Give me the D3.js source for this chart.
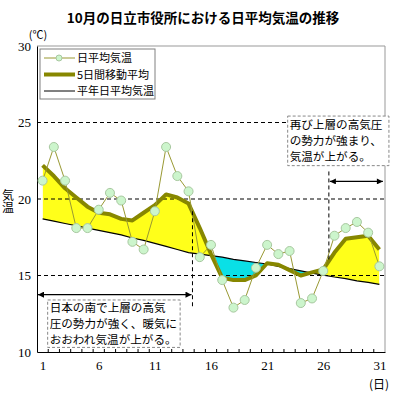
<!DOCTYPE html>
<html>
<head>
<meta charset="utf-8">
<script src="https://cdn.jsdelivr.net/npm/d3@7"></script>
<style>
  body { margin: 0; background: #fff; }
  svg { display: block; }
</style>
</head>
<body>
<script>
// 10月の日立市役所 日平均気温
const days = [1, 2, 3, 4, 5, 6, 7, 8, 9, 10, 11, 12, 13, 14, 15, 16, 17, 18, 19, 20, 21, 22, 23, 24, 25, 26, 27, 28, 29, 30, 31];
const daily = [21.2, 23.4, 21.2, 18.1, 18.1, 19.3, 20.4, 19.9, 17.2, 16.7, 19.2, 23.4, 21.5, 20.5, 16.2, 17.0,
  14.7, 12.9, 13.4, 15.5, 17.0, 16.4, 16.6, 13.2, 13.5, 15.3, 17.6, 18.1, 18.5, 17.8, 15.6];
const ma5 = [22.2, 21.5, 20.7, 20.1, 19.5, 19.1, 19.0, 18.7, 18.6, 19.1, 19.6, 20.3, 20.1, 19.7, 18.1, 16.4,
  14.85, 14.7, 14.7, 15.0, 15.8, 15.7, 15.35, 15.0, 15.2, 15.4, 16.5, 17.4, 17.5, 17.6, 16.7];
const normal = [18.7, 18.55, 18.4, 18.25, 18.1, 17.95, 17.8, 17.65, 17.45, 17.3, 17.1, 16.9, 16.7, 16.5, 16.4,
  16.3, 16.2, 16.05, 15.95, 15.85, 15.75, 15.6, 15.45, 15.3, 15.15, 15.03, 14.9, 14.8, 14.65, 14.55, 14.42];

const yTicks = [10, 15, 20, 25, 30];
const xTicks = [1, 6, 11, 16, 21, 26, 31];
const legendLabels = ['日平均気温', '5日間移動平均', '平年日平均気温'];
const title = '10月の日立市役所における日平均気温の推移';

// annotations (data units)
const noteLeft = ['日本の南で上層の高気', '圧の勢力が強く、暖気に', 'おおわれ気温が上がる。'];
const noteRight = ['再び上層の高気圧', 'の勢力が強まり、', '気温が上がる。'];

const width = 400;
const height = 400;
const pL = 37, pR = 385, pT = 46, pB = 352;
const jp = '"Noto Sans CJK JP", sans-serif';
const num = '"Liberation Serif", "Times New Roman", serif';

const svg = d3.select('body').append('svg')
  .attr('width', width).attr('height', height);

const x = d3.scaleLinear().domain([0.5, 31.5]).range([pL, pR]);
const y = d3.scaleLinear().domain([10, 30]).range([pB, pT]);

const data = days.map((d, i) => ({ day: d, t: daily[i], ma: ma5[i], n: normal[i] }));

// title
svg.append('text')
  .attr('x', 203).attr('y', 23)
  .attr('text-anchor', 'middle')
  .style('font-family', jp).style('font-size', '13.5px').style('font-weight', 'bold')
  .text(title);

// fills between 5-day mean and normal
const defs = svg.append('defs');
defs.append('clipPath').attr('id', 'below-ma')
  .append('path')
  .attr('d', d3.area().x((d) => x(d.day)).y0(pB).y1((d) => y(d.ma))(data));
defs.append('clipPath').attr('id', 'above-ma')
  .append('path')
  .attr('d', d3.area().x((d) => x(d.day)).y0(pT).y1((d) => y(d.ma))(data));

svg.append('path')
  .attr('clip-path', 'url(#below-ma)')
  .attr('fill', '#ffff1a')
  .attr('d', d3.area().x((d) => x(d.day)).y0((d) => y(d.n)).y1(pT)(data));
svg.append('path')
  .attr('clip-path', 'url(#above-ma)')
  .attr('fill', '#0ae0e6')
  .attr('d', d3.area().x((d) => x(d.day)).y0((d) => y(d.n)).y1(pB)(data));

// grid
svg.append('g')
  .selectAll('line')
  .data([15, 20, 25])
  .enter()
  .append('line')
  .attr('x1', pL).attr('x2', pR)
  .attr('y1', (d) => y(d)).attr('y2', (d) => y(d))
  .attr('stroke', '#000').attr('stroke-dasharray', '4,3');

// frame: top/right grey, left/bottom black
svg.append('path')
  .attr('d', `M${pL},${pT}H${pR}V${pB}`)
  .attr('fill', 'none').attr('stroke', '#999');

const yAxis = d3.axisLeft(y).tickValues(yTicks).tickSize(0).tickPadding(6);
const gy = svg.append('g').attr('transform', `translate(${pL},0)`).call(yAxis);
gy.select('.domain').attr('stroke', '#000');
gy.selectAll('text').style('font-family', num).style('font-size', '13px');

const xAxis = d3.axisBottom(x).tickValues(xTicks).tickSize(0).tickPadding(9);
const gx = svg.append('g').attr('transform', `translate(0,${pB})`).call(xAxis);
gx.select('.domain').attr('stroke', '#000');
gx.selectAll('text').style('font-family', num).style('font-size', '13px');

// small inner ticks between days
svg.append('g')
  .selectAll('line')
  .data(days.slice(0, 30))
  .enter()
  .append('line')
  .attr('x1', (d) => x(d + 0.5)).attr('x2', (d) => x(d + 0.5))
  .attr('y1', pB).attr('y2', pB - 3)
  .attr('stroke', '#000');

svg.append('text')
  .attr('x', 38).attr('y', 39).attr('text-anchor', 'middle')
  .style('font-family', jp).style('font-size', '11px')
  .text('(℃)');
svg.append('text')
  .attr('x', 379).attr('y', 389).attr('text-anchor', 'middle')
  .style('font-family', jp).style('font-size', '12px')
  .text('(日)');
svg.append('text')
  .attr('x', 8).attr('y', 201)
  .attr('text-anchor', 'middle')
  .style('writing-mode', 'vertical-rl')
  .style('font-family', jp).style('font-size', '12px')
  .text('気温');

// lines
const normalLine = d3.line().x((d) => x(d.day)).y((d) => y(d.n));
const maLine = d3.line().x((d) => x(d.day)).y((d) => y(d.ma));
const dailyLine = d3.line().x((d) => x(d.day)).y((d) => y(d.t));

svg.append('path').attr('d', normalLine(data))
  .attr('fill', 'none').attr('stroke', '#000').attr('stroke-width', 1.2);
svg.append('path').attr('d', maLine(data))
  .attr('fill', 'none').attr('stroke', '#878700').attr('stroke-width', 4)
  .attr('stroke-linejoin', 'round');
svg.append('path').attr('d', dailyLine(data))
  .attr('fill', 'none').attr('stroke', '#999933').attr('stroke-width', 1);
svg.append('g')
  .selectAll('circle')
  .data(data)
  .enter()
  .append('circle')
  .attr('cx', (d) => x(d.day)).attr('cy', (d) => y(d.t))
  .attr('r', 4.5)
  .attr('fill', '#ccf5cc').attr('stroke', '#a8c8a0');

// annotations
svg.append('defs').append('marker')
  .attr('id', 'arrow')
  .attr('viewBox', '0 0 10 10')
  .attr('refX', 10).attr('refY', 5)
  .attr('markerWidth', 9).attr('markerHeight', 6)
  .attr('markerUnits', 'userSpaceOnUse')
  .attr('orient', 'auto-start-reverse')
  .append('path').attr('d', 'M0,0L10,5L0,10Z').attr('fill', '#000');

const vDash = [
  { day: 14.35, from: 19.2, to: 12.9 },
  { day: 26.5, from: 21.8, to: 15.9 }
];
svg.append('g')
  .selectAll('line')
  .data(vDash)
  .enter()
  .append('line')
  .attr('x1', (d) => x(d.day)).attr('x2', (d) => x(d.day))
  .attr('y1', (d) => y(d.from)).attr('y2', (d) => y(d.to))
  .attr('stroke', '#000').attr('stroke-dasharray', '4,3');

const arrows = [
  { x0: 0.5, x1: 14.35, v: 13.75 },
  { x0: 26.5, x1: 31.4, v: 21.15 }
];
svg.append('g')
  .selectAll('line')
  .data(arrows)
  .enter()
  .append('line')
  .attr('x1', (d) => x(d.x0) + 1).attr('x2', (d) => x(d.x1) - 1)
  .attr('y1', (d) => y(d.v)).attr('y2', (d) => y(d.v))
  .attr('stroke', '#000').attr('stroke-width', 1.2)
  .attr('marker-start', 'url(#arrow)').attr('marker-end', 'url(#arrow)');

function note(lines, x0, x1, v0, v1) {
  const g = svg.append('g');
  g.append('rect')
    .attr('x', x(x0)).attr('y', y(v0))
    .attr('width', x(x1) - x(x0)).attr('height', y(v1) - y(v0))
    .attr('fill', '#fff').attr('stroke', '#888').attr('stroke-dasharray', '3,2');
  g.append('g')
    .selectAll('text')
    .data(lines)
    .enter()
    .append('text')
    .attr('x', x(x0) + 2)
    .attr('y', (d, i) => y(v0) + 12.5 + i * 16)
    .style('font-family', jp).style('font-size', '11.6px')
    .text((d) => d);
}
note(noteLeft, 1.45, 13.25, 13.4, 10.3);
note(noteRight, 22.83, 31.85, 25.42, 22.18);

// legend
const legend = svg.append('g').attr('transform', 'translate(40,49)');
legend.append('rect')
  .attr('width', 115).attr('height', 50)
  .attr('fill', '#fff').attr('stroke', '#808080');
const rows = legend.selectAll('g.row')
  .data(legendLabels)
  .enter()
  .append('g')
  .attr('class', 'row')
  .attr('transform', (d, i) => `translate(0,${9 + i * 16.5})`);
rows.append('line')
  .attr('x1', 4).attr('x2', 35)
  .attr('stroke', (d, i) => ['#999933', '#878700', '#000'][i])
  .attr('stroke-width', (d, i) => [1, 4, 1][i]);
rows.filter((d, i) => i === 0)
  .append('circle')
  .attr('cx', 19).attr('r', 3)
  .attr('fill', '#ccf5cc').attr('stroke', '#a8c8a0');
rows.append('text')
  .attr('x', 37).attr('y', 4)
  .style('font-family', jp).style('font-size', '11px')
  .text((d) => d);
</script>
</body>
</html>
